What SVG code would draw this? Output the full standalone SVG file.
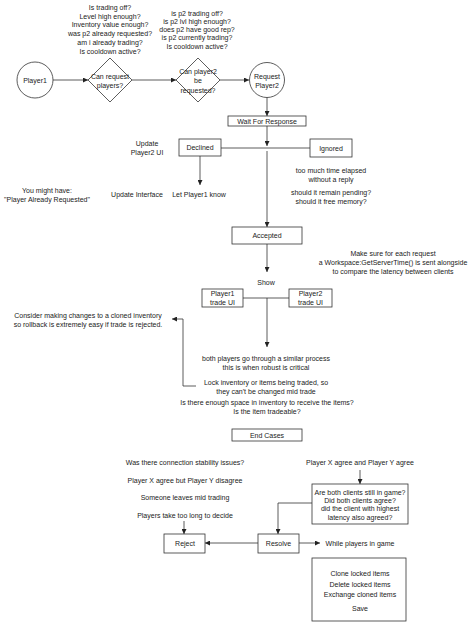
<svg xmlns="http://www.w3.org/2000/svg" width="474" height="623" viewBox="0 0 474 623">
<defs>
<marker id="arr" viewBox="0 0 10 10" refX="10" refY="5" markerWidth="5" markerHeight="5" orient="auto" markerUnits="userSpaceOnUse">
<path d="M0,0 L10,5 L0,10 Z" fill="#222"/>
</marker>
</defs>
<style>
text{font-family:"Liberation Sans",Arial,sans-serif;font-size:7px;fill:#222;text-anchor:middle;dominant-baseline:central}
.s{fill:#fff;stroke:#333;stroke-width:0.8}
.c{fill:none;stroke:#333;stroke-width:0.8}
.a{marker-end:url(#arr)}
</style>
<rect width="474" height="623" fill="#fff"/>
<g id="connectors">
<path class="c a" d="M53,80 L88,80"/>
<path class="c a" d="M132,80 L176,80"/>
<path class="c a" d="M220,80 L249,80"/>
<path class="c a" d="M267,97 L267,116"/>
<path class="c a" d="M267,126 L267,146"/>
<path class="c" d="M221,148 L310,148"/>
<path class="c a" d="M200,156 L200,185"/>
<path class="c a" d="M267,151 L267,227"/>
<path class="c a" d="M267,244 L267,272"/>
<path class="c" d="M243,298 L289,298"/>
<path class="c a" d="M267,298 L267,347"/>
<path class="c a" d="M196,386 L183,386 L183,319 L172,319"/>
<path class="c a" d="M184,521 L184,534"/>
<path class="c a" d="M360,470 L360,484"/>
<path class="c a" d="M312,503 L278,503 L278,534"/>
<path class="c a" d="M258,543 L205,543"/>
<path class="c a" d="M299,543 L320,543"/>
</g>
<g id="player1">
<circle class="s" cx="35" cy="80" r="18"/>
<text x="35" y="80">Player1</text>
</g>
<g id="can-request">
<path class="s" d="M110,58 L132,80 L110,102 L88,80 Z"/>
<text x="110" y="76">Can request</text>
<text x="110" y="85">players?</text>
</g>
<g id="checks1">
<text x="110" y="7">Is trading off?</text>
<text x="110" y="16">Level high enough?</text>
<text x="110" y="24.5">Inventory value enough?</text>
<text x="110" y="33">was p2 already requested?</text>
<text x="110" y="42">am i already trading?</text>
<text x="110" y="51">Is cooldown active?</text>
</g>
<g id="can-player2">
<path class="s" d="M198,58 L220,80 L198,102 L176,80 Z"/>
<text x="198" y="71">Can player2</text>
<text x="198" y="80.5">be</text>
<text x="198" y="90">requested?</text>
</g>
<g id="checks2">
<text x="197" y="13">is p2 trading off?</text>
<text x="197" y="21">is p2 lvl high enough?</text>
<text x="197" y="29">does p2 have good rep?</text>
<text x="197" y="37.5">is p2 currently trading?</text>
<text x="197" y="46">Is cooldown active?</text>
</g>
<g id="request-player2">
<circle class="s" cx="267" cy="80" r="17.5"/>
<text x="267" y="76.5">Request</text>
<text x="267" y="85">Player2</text>
</g>
<g id="wait">
<rect class="s" x="228" y="116" width="78" height="10"/>
<text x="267" y="121">Wait For Response</text>
</g>
<g id="declined">
<rect class="s" x="179" y="139" width="42" height="17"/>
<text x="200" y="147.5">Declined</text>
</g>
<g id="ignored">
<rect class="s" x="310" y="139" width="42" height="18"/>
<text x="331" y="148">Ignored</text>
</g>
<g id="declined-notes">
<text x="147" y="143">Update</text>
<text x="147" y="152">Player2 UI</text>
<text x="47" y="190">You might have:</text>
<text x="47" y="199">"Player Already Requested"</text>
<text x="137" y="194">Update Interface</text>
<text x="199" y="194">Let Player1 know</text>
</g>
<g id="ignored-notes">
<text x="331" y="170">too much time elapsed</text>
<text x="331" y="179">without a reply</text>
<text x="331" y="192">should it remain pending?</text>
<text x="331" y="201">should it free memory?</text>
</g>
<g id="accepted">
<rect class="s" x="232" y="227" width="70" height="17"/>
<text x="267" y="235.5">Accepted</text>
</g>
<g id="latency-note">
<text x="393" y="253">Make sure for each request</text>
<text x="393" y="262">a Workspace:GetServerTime() is sent alongside</text>
<text x="393" y="271">to compare the latency between clients</text>
</g>
<text x="266" y="282">Show</text>
<g id="p1-ui">
<rect class="s" x="202" y="289" width="41" height="18"/>
<text x="222.5" y="293.5">Player1</text>
<text x="222.5" y="302">trade UI</text>
</g>
<g id="p2-ui">
<rect class="s" x="289" y="289" width="43" height="18"/>
<text x="310.5" y="293.5">Player2</text>
<text x="310.5" y="302">trade UI</text>
</g>
<g id="clone-note">
<text x="88" y="315">Consider making changes to a cloned inventory</text>
<text x="88" y="324">so rollback is extremely easy if trade is rejected.</text>
</g>
<g id="process-notes">
<text x="266" y="358">both players go through a similar process</text>
<text x="266" y="367">this is when robust is critical</text>
<text x="266" y="382">Lock inventory or items being traded, so</text>
<text x="266" y="391">they can't be changed mid trade</text>
<text x="267" y="402">Is there enough space in inventory to receive the items?</text>
<text x="267" y="411">Is the item tradeable?</text>
</g>
<g id="end-cases">
<rect class="s" x="232" y="429" width="70" height="12"/>
<text x="267" y="435">End Cases</text>
</g>
<g id="reject-notes">
<text x="185" y="462">Was there connection stability issues?</text>
<text x="185" y="480">Player X agree but Player Y disagree</text>
<text x="185" y="497">Someone leaves mid trading</text>
<text x="185" y="515">Players take too long to decide</text>
</g>
<g id="reject">
<rect class="s" x="164" y="534" width="41" height="19"/>
<text x="185" y="543">Reject</text>
</g>
<text x="360" y="462">Player X agree and Player Y agree</text>
<g id="checks3">
<rect class="s" x="312" y="484" width="96" height="40"/>
<text x="360" y="492">Are both clients still in game?</text>
<text x="360" y="500">Did both clients agree?</text>
<text x="360" y="508.5">did the client with highest</text>
<text x="360" y="517">latency also agreed?</text>
</g>
<g id="resolve">
<rect class="s" x="258" y="534" width="41" height="19"/>
<text x="278.5" y="543">Resolve</text>
</g>
<text x="360" y="543">While players in game</text>
<g id="final-steps">
<rect class="s" x="312" y="558" width="94" height="63"/>
<text x="360" y="573">Clone locked items</text>
<text x="360" y="584">Delete locked items</text>
<text x="360" y="594">Exchange cloned items</text>
<text x="360" y="608">Save</text>
</g>
</svg>
